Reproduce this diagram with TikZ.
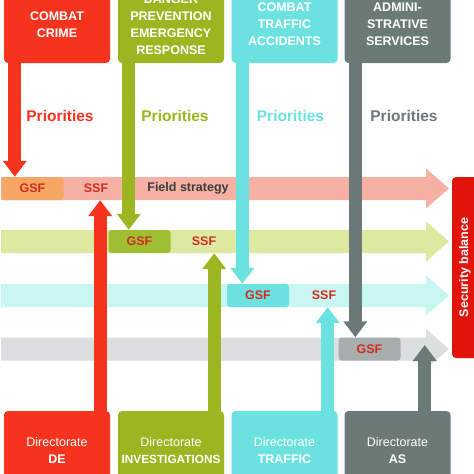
\documentclass[tikz,border=0pt]{standalone}
\usepackage{fontspec}
\setmainfont{Liberation Sans}
\usetikzlibrary{arrows.meta,positioning}
\definecolor{crimered}{RGB}{246,52,30}
\definecolor{dangergreen}{RGB}{155,182,32}
\definecolor{trafficcyan}{RGB}{108,226,224}
\definecolor{admingray}{RGB}{108,121,121}
\definecolor{bandred}{RGB}{246,176,164}
\definecolor{bandgreen}{RGB}{221,232,160}
\definecolor{bandcyan}{RGB}{200,246,243}
\definecolor{bandgray}{RGB}{220,223,223}
\definecolor{gsfred}{RGB}{245,166,98}
\definecolor{gsfgreen}{RGB}{160,190,50}
\definecolor{gsfcyan}{RGB}{108,226,224}
\definecolor{gsfgray}{RGB}{168,174,174}
\definecolor{balancered}{RGB}{225,20,12}
\definecolor{labelred}{RGB}{208,45,30}
\definecolor{fieldtext}{RGB}{60,60,60}

\begin{document}
\begin{tikzpicture}[x=1pt,y=-1pt,
    every node/.style={font=\fontsize{12.5}{17}\selectfont\bfseries, inner sep=0pt},
    head/.style={rounded corners=4pt, minimum width=106pt, text=white, align=center},
    gsfbox/.style={rounded corners=3pt, minimum width=62pt, minimum height=23pt, text=labelred},
    lbl/.style={minimum height=23pt, text=labelred},
    prio/.style={font=\fontsize{15.5}{18}\selectfont\bfseries},
    flow/.style={line width=13pt, -{Triangle[width=23pt,length=16pt]}}]
  \useasboundingbox (0,0) rectangle (474,474);
  % bands
  \foreach \col/\y in {bandred/188.5,bandgreen/241.5,bandcyan/295.5,bandgray/349}
    \fill[\col] (1,\y-11.5) -- (426,\y-11.5) -- (426,\y-20) -- (449,\y)
      -- (426,\y+20) -- (426,\y+11.5) -- (1,\y+11.5) -- cycle;

  % tasks on top
  \node[head, fill=crimered, minimum height=77pt] (crime) at (57,24.5) {COMBAT\\CRIME};
  \node[head, fill=dangergreen, minimum height=77pt] (danger) at (171,24.5) {DANGER\\PREVENTION\\EMERGENCY\\RESPONSE};
  \node[head, fill=trafficcyan, minimum height=77pt] (traffic) at (284.5,24.5) {COMBAT\\TRAFFIC\\ACCIDENTS};
  \node[head, fill=admingray, minimum height=77pt] (admin) at (397.5,24.5) {ADMINI-\\STRATIVE\\SERVICES};

  \node[prio, text=crimered] (prioA) at (60,116) {Priorities};
  \node[prio, text=dangergreen] (prioB) at (175,116) {Priorities};
  \node[prio, text=trafficcyan] (prioC) at (290.5,116) {Priorities};
  \node[prio, text=admingray] (prioD) at (404,116) {Priorities};

  % directorates
  \node[head, fill=crimered, minimum height=79pt] (de) at (57,450.5) {{\mdseries Directorate}\\DE};
  \node[head, fill=dangergreen, minimum height=79pt] (inv) at (171,450.5) {{\mdseries Directorate}\\{\fontsize{11.8}{17}\selectfont INVESTIGATIONS}};
  \node[head, fill=trafficcyan, minimum height=79pt] (tra) at (284.5,450.5) {{\mdseries Directorate}\\TRAFFIC};
  \node[head, fill=admingray, minimum height=79pt] (as) at (397.5,450.5) {{\mdseries Directorate}\\AS};

  % band labels
  \node[gsfbox, fill=gsfred] (gsfA) at (32.5,188.5) {GSF};
  \node[lbl] (ssfA) at (96,188.5) {SSF};
  \node[text=fieldtext] (field) at (188,188.5) {Field strategy};
  \node[gsfbox, fill=gsfgreen] (gsfB) at (139.5,241.5) {GSF};
  \node[lbl] (ssfB) at (204,241.5) {SSF};
  \node[gsfbox, fill=gsfcyan] (gsfC) at (258,295.5) {GSF};
  \node[lbl] (ssfC) at (324,295.5) {SSF};
  \node[gsfbox, fill=gsfgray] (gsfD) at (369.5,349) {GSF};
  \coordinate (asend) at (425,345);

  \node[rotate=90, fill=balancered, text=white, rounded corners=4pt,
    minimum width=181pt, minimum height=26pt] (balance) at (465,267.5) {Security balance};

  % priorities down, directorates up
  \draw[flow, crimered] ([xshift=11pt]crime.south west) -- ([xshift=11pt]crime.south west |- gsfA.north);
  \draw[flow, dangergreen] ([xshift=11pt]danger.south west) -- ([xshift=11pt]danger.south west |- gsfB.north);
  \draw[flow, trafficcyan] ([xshift=11pt]traffic.south west) -- ([xshift=11pt]traffic.south west |- gsfC.north);
  \draw[flow, admingray] ([xshift=11pt]admin.south west) -- ([xshift=11pt]admin.south west |- gsfD.north);
  \draw[flow, crimered] ([xshift=-10pt]de.north east) -- ([xshift=-10pt]de.north east |- ssfA.south);
  \draw[flow, dangergreen] ([xshift=-10pt]inv.north east) -- ([xshift=-10pt]inv.north east |- ssfB.south);
  \draw[flow, trafficcyan] ([xshift=-10pt]tra.north east) -- ([xshift=-10pt]tra.north east |- ssfC.south);
  \draw[flow, admingray] ([xshift=-26pt]as.north east) -- ([xshift=-26pt]as.north east |- asend);
\end{tikzpicture}
\end{document}
